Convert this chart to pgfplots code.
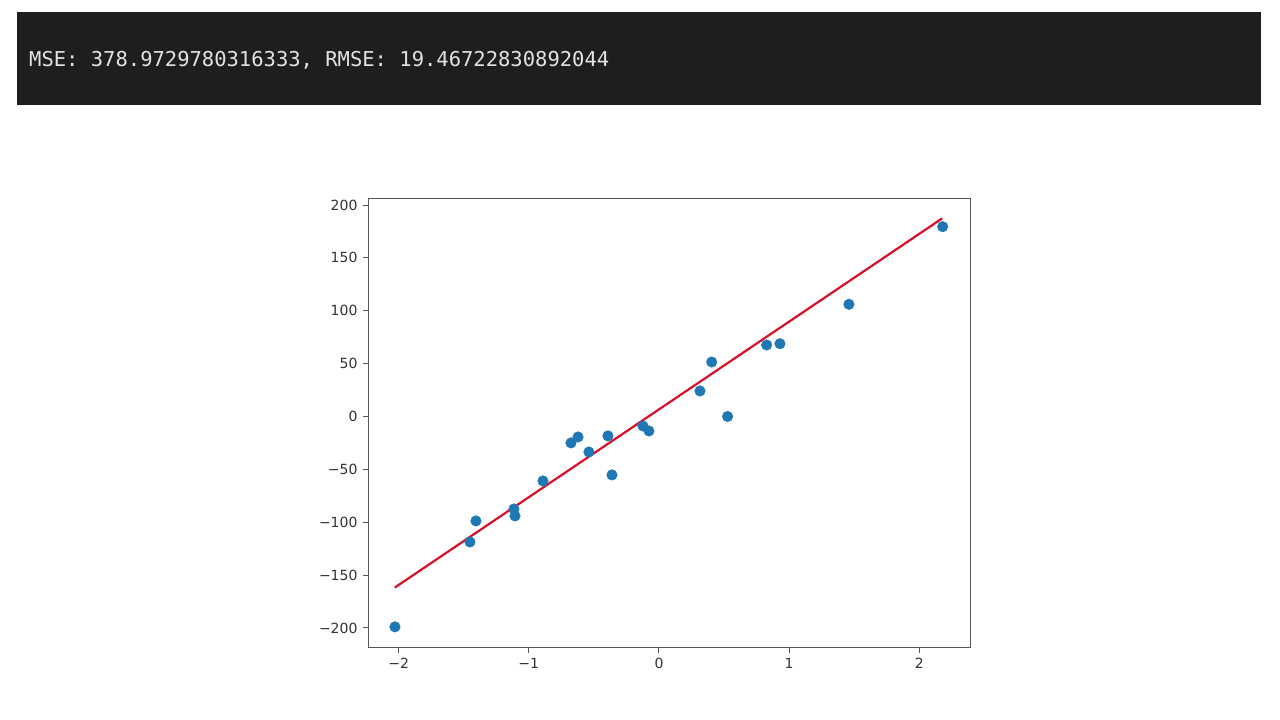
\documentclass[border=0pt]{standalone}
\usepackage{fontspec}
\setmainfont{DejaVu Sans}
\newfontfamily\monofont{DejaVu Sans Mono}
\usepackage{pgfplots}
\pgfplotsset{compat=1.18}

\definecolor{termbg}{HTML}{1E1E1E}
\definecolor{termfg}{HTML}{E2E2E2}
\definecolor{mplblue}{HTML}{1F77B4}
\definecolor{fitred}{HTML}{D9102A}
\definecolor{framegray}{HTML}{555555}
\definecolor{ticktext}{HTML}{333333}

\begin{document}
\begin{tikzpicture}[x=1pt,y=1pt]
  % canvas 1280 x 720, 1pt = 1px
  \fill[white] (0,0) rectangle (1280,720);
  \useasboundingbox (0,0) rectangle (1280,720);

  % terminal output bar
  \fill[termbg] (17,615) rectangle (1261,708);
  \node[anchor=base west, inner sep=0pt, text=termfg,
        font=\monofont\fontsize{20.5}{24}\selectfont]
    at (29,653) {MSE: 378.9729780316333, RMSE: 19.46722830892044};

  \begin{axis}[
      at={(368pt,72pt)}, anchor=south west,
      scale only axis,
      width=602pt, height=449pt,
      xmin=-2.235, xmax=2.389,
      ymin=-219, ymax=205.7,
      xtick={-2,-1,0,1,2},
      xticklabels={−2,−1,0,1,2},
      ytick={-200,-150,-100,-50,0,50,100,150,200},
      yticklabels={−200,−150,−100,−50,0,50,100,150,200},
      tick align=outside,
      tick pos=left,
      major tick length=5pt,
      tick style={framegray, line width=1pt},
      axis line style={framegray, line width=1pt},
      every tick label/.style={font=\fontsize{14}{16}\selectfont, text=ticktext},
      xticklabel style={yshift=-2pt},
      yticklabel style={xshift=-2pt},
      clip=false,
    ]
    % observed points
    \addplot[only marks, mark=*, mark size=5.3pt,
             mark options={fill=mplblue, draw=mplblue}] coordinates {
      (-2.028,-199.0) (-1.452,-118.7) (-1.406,-98.8) (-1.114,-87.5)
      (-1.106,-94.1) (-0.891,-61.0) (-0.676,-25.0) (-0.622,-19.4)
      (-0.538,-33.6) (-0.392,-18.4) (-0.361,-55.3) (-0.123,-9.0)
      (-0.077,-13.7) (0.315,24.1) (0.405,51.5) (0.527,0.0)
      (0.827,67.6) (0.929,68.8) (1.459,106.1) (2.179,179.5)
    };
    % fitted regression line
    \addplot[fitred, line width=2.2pt] coordinates {
      (-2.030,-161.9) (2.176,187.4)
    };
  \end{axis}
\end{tikzpicture}
\end{document}
